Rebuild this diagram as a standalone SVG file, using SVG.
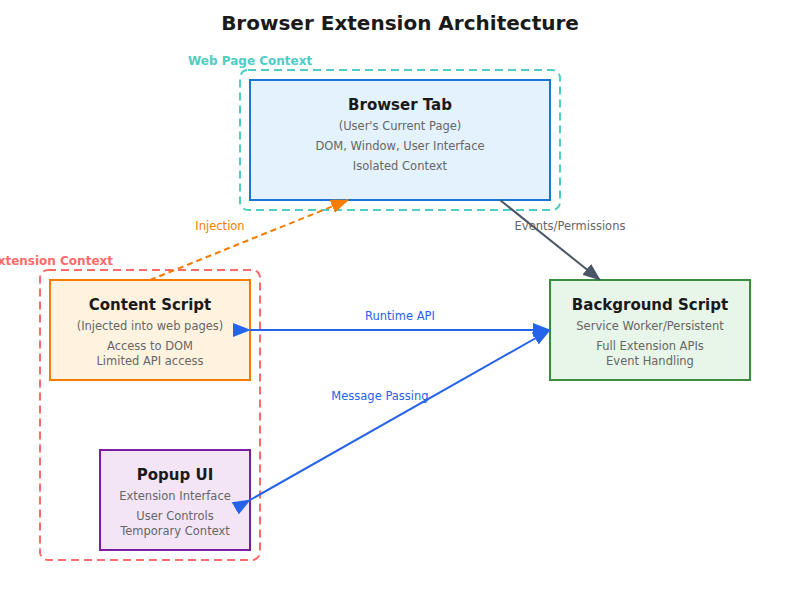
<svg xmlns="http://www.w3.org/2000/svg" width="800" height="600" viewBox="0 0 800 600">
<style>
text{font-family:"DejaVu Sans",sans-serif}
.t{font-size:15px;font-weight:bold;fill:#1a1a1a;text-anchor:middle}
.s{font-size:11.5px;fill:#666;text-anchor:middle}
.l{font-size:11.5px;text-anchor:middle}
.ctx{fill:none;stroke-width:2;stroke-dasharray:8 5}
.n{stroke-width:2}
</style>
<defs>
<marker id="ag" markerWidth="18" markerHeight="14" refX="17" refY="7" orient="auto" markerUnits="userSpaceOnUse" viewBox="0 0 18 14"><path d="M0,0L18,7L0,14Z" fill="#4a5568"/></marker>
<marker id="ab" markerWidth="18" markerHeight="14" refX="17" refY="7" orient="auto" markerUnits="userSpaceOnUse" viewBox="0 0 18 14"><path d="M0,0L18,7L0,14Z" fill="#2563eb"/></marker>
<marker id="ao2" markerWidth="18" markerHeight="14" refX="17" refY="7" orient="auto" markerUnits="userSpaceOnUse" viewBox="0 0 18 14"><path d="M0,0L18,7L0,14Z" fill="#f57c00"/></marker>
</defs>
<rect width="800" height="600" fill="#fff"/>
<text x="400" y="30" style="font-size:20px;font-weight:bold;fill:#1a1a1a;text-anchor:middle">Browser Extension Architecture</text>
<g id="contexts">
<rect class="ctx" x="240" y="70" width="320" height="140" rx="8" stroke="#4ecdc4"/>
<text x="188" y="65" style="font-size:12px;font-weight:bold;fill:#4ecdc4">Web Page Context</text>
<rect class="ctx" x="40" y="270" width="220" height="290" rx="8" stroke="#ff6b6b"/>
<text x="113" y="265" style="font-size:12px;font-weight:bold;fill:#ff6b6b;text-anchor:end">Extension Context</text>
</g>
<g id="browser-tab">
<rect class="n" x="250" y="80" width="300" height="120" fill="#e3f2fd" stroke="#1976d2"/>
<text x="400" y="110" class="t">Browser Tab</text>
<text x="400" y="130" class="s">(User's Current Page)</text>
<text x="400" y="150" class="s">DOM, Window, User Interface</text>
<text x="400" y="170" class="s">Isolated Context</text>
</g>
<g id="content-script">
<rect class="n" x="50" y="280" width="200" height="100" fill="#fff3e0" stroke="#f57c00"/>
<text x="150" y="310" class="t">Content Script</text>
<text x="150" y="330" class="s">(Injected into web pages)</text>
<text x="150" y="350" class="s">Access to DOM</text>
<text x="150" y="365" class="s">Limited API access</text>
</g>
<g id="background-script">
<rect class="n" x="550" y="280" width="200" height="100" fill="#e8f5e9" stroke="#388e3c"/>
<text x="650" y="310" class="t">Background Script</text>
<text x="650" y="330" class="s">Service Worker/Persistent</text>
<text x="650" y="350" class="s">Full Extension APIs</text>
<text x="650" y="365" class="s">Event Handling</text>
</g>
<g id="popup-ui">
<rect class="n" x="100" y="450" width="150" height="100" fill="#f3e5f5" stroke="#7b1fa2"/>
<text x="175" y="480" class="t">Popup UI</text>
<text x="175" y="500" class="s">Extension Interface</text>
<text x="175" y="520" class="s">User Controls</text>
<text x="175" y="535" class="s">Temporary Context</text>
</g>
<g id="connectors">
<line x1="150" y1="280" x2="348" y2="200" stroke="#f57c00" stroke-width="2" stroke-dasharray="6 4" marker-end="url(#ao2)"/>
<text x="220" y="230" class="l" fill="#f57c00">Injection</text>
<line x1="500" y1="200" x2="600" y2="280" stroke="#4a5568" stroke-width="2" marker-end="url(#ag)"/>
<text x="570" y="230" class="l" fill="#666">Events/Permissions</text>
<line x1="250" y1="330" x2="550" y2="330" stroke="#2563eb" stroke-width="2" marker-start="url(#ab)" marker-end="url(#ab)"/>
<text x="400" y="320" class="l" fill="#2563eb">Runtime API</text>
<line x1="250" y1="500" x2="550" y2="330" stroke="#2563eb" stroke-width="2" marker-start="url(#ab)" marker-end="url(#ab)"/>
<text x="380" y="400" class="l" fill="#2563eb">Message Passing</text>
</g>
</svg>
